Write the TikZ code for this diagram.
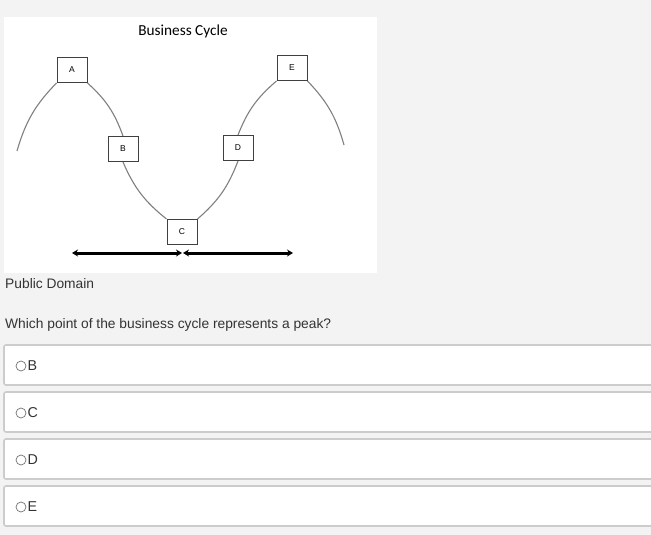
\documentclass[tikz,border=0pt]{standalone}
\usepackage{fontspec}
\setmainfont{Liberation Sans}
\newfontfamily\calib{Carlito}
\usetikzlibrary{arrows.meta}
\definecolor{pagebg}{HTML}{F3F3F3}
\definecolor{txt}{HTML}{333333}
\definecolor{optborder}{HTML}{CCCCCC}
\definecolor{curvegray}{HTML}{808080}
\tikzset{
  ptbox/.style={draw=black!75, line width=1pt, fill=white, minimum width=30pt, minimum height=25pt, inner sep=0pt, font=\fontsize{8.5}{9}\selectfont},
  wave/.style={draw=curvegray, line width=1.1pt},
  period/.style={line width=3pt, {Stealth[length=6pt,width=7pt]}-{Stealth[length=6pt,width=7pt]}},
  optbox/.style={draw=optborder, line width=1.6pt, fill=white, rounded corners=2pt},
  radio/.style={draw=black!55, line width=0.7pt, fill=white, circle, minimum size=10pt, inner sep=0pt},
  opttext/.style={anchor=west, text=txt, font=\fontsize{14.3}{16}\selectfont, inner sep=0pt},
  plain/.style={anchor=west, text=txt, font=\fontsize{13.8}{16}\selectfont, inner sep=0pt}
}
\begin{document}
\begin{tikzpicture}[x=1pt,y=-1pt]
\fill[pagebg] (0,0) rectangle (651,535);
\useasboundingbox (0,0) rectangle (651,535);
% image panel
\fill[white] (4,17) rectangle (377,273);
\node[font=\calib\fontsize{15.3}{17}\selectfont] (title) at (183,31) {Business Cycle};
% curve endpoints
\coordinate (L) at (17,151);
\coordinate (R) at (344,145);
% boxes
\node[ptbox] (A) at (72,70) {A};
\node[ptbox] (E) at (292,68) {E};
\node[ptbox] (B) at (123,149) {B};
\node[ptbox] (D) at (238,148) {D};
\node[ptbox] (C) at (182,232) {C};
% wave
\draw[wave] (L) to[bend left=14] (A.south west);
\draw[wave] (A.south east) to[bend left=14] (B.north);
\draw[wave] (B.south) to[bend right=14] (C.north west);
\draw[wave] (C.north east) to[bend right=14] (D.south);
\draw[wave] (D.north) to[bend left=14] (E.south west);
\draw[wave] (E.south east) to[bend left=14] (R);
% period arrows
\coordinate (P1) at (72,253);
\coordinate (P2) at (182,253);
\coordinate (P3) at (183,253);
\coordinate (P4) at (293,253);
\draw[period] (P1) -- (P2);
\draw[period] (P3) -- (P4);
% texts
\node[plain] (pd) at (5,284) {Public Domain};
\node[plain] (q) at (5,325) {Which point of the business cycle represents a peak?};
% options
\foreach \n/\l/\yc in {1/B/365,2/C/412,3/D/459,4/E/506}{
  \draw[optbox] (4,\yc-20) rectangle (660,\yc+20);
  \node[radio] (r\n) at (21,\yc+1) {};
  \node[opttext] (o\n) at (27.5,\yc+1) {\l};
}
\end{tikzpicture}
\end{document}
